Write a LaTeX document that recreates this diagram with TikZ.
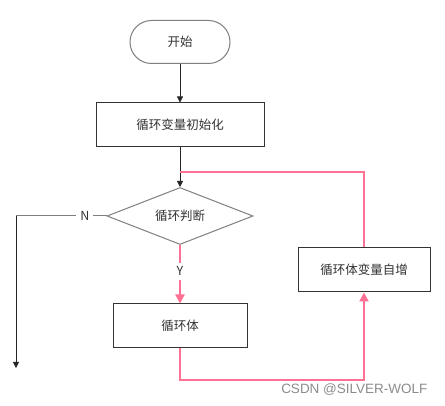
\documentclass[tikz,border=0pt]{standalone}
\usepackage{fontspec}
\setmainfont{Noto Sans CJK SC}
\newfontfamily\wmfont{Liberation Sans}
\usetikzlibrary{arrows.meta,shapes.geometric,calc}
\definecolor{pinkline}{HTML}{FF7095}
\definecolor{boxline}{HTML}{333333}
\definecolor{grayline}{HTML}{7F7F7F}
\definecolor{txt}{HTML}{333333}
\begin{document}
\begin{tikzpicture}[x=1pt,y=-1pt,
  every node/.style={font=\fontsize{12.5}{14}\selectfont, text=txt},
  proc/.style={draw=boxline, line width=1pt, minimum width=#1, minimum height=44pt, inner sep=0pt},
  term/.style={draw=grayline, line width=1pt, rounded corners=21.5pt, minimum width=100pt, minimum height=43pt},
  cond/.style={draw=grayline, line width=1pt, diamond, aspect=2.55, minimum width=146pt, minimum height=57pt, inner sep=0pt},
  blk/.style={draw=black!85, line width=0.8pt, -{Triangle[width=6pt,length=6pt]}},
  pnk/.style={draw=pinkline, line width=2pt, -{Triangle[width=9pt,length=9pt]}},
  pnkl/.style={draw=pinkline, line width=2pt},
  lbl/.style={fill=white, inner sep=4pt, font=\fontsize{12.5}{14}\selectfont}
]
\useasboundingbox (0,0) rectangle (445,406);
\fill[white] (0,0) rectangle (445,406);
\node[term] (start) at (180,42) {开始};
\node[proc=168pt] (init) at (180,125) {循环变量初始化};
\node[cond] (judge) at (180,216) {循环判断};
\node[proc=134pt] (body) at (180,326) {循环体};
\node[proc=132pt] (inc) at (364,270) {循环体变量自增};
\coordinate (join) at (180,172);
\coordinate (ncorner) at (16,216);
\coordinate (nend) at (16,368);
\coordinate (bot) at (180,380);
% black arrows
\draw[blk] (start) -- (init);
\draw[blk] (init.south) -- (judge.north);
% pink loop
\draw[pnkl] (inc.north) |- (join);
\draw[pnk] (body.south) -- (bot) -| (inc.south);
% Y branch
\draw[pnk] (judge.south) -- node[lbl, pos=0.45] {Y} (body.north);
% N branch
\draw[draw=grayline, line width=1pt] (judge.west) -- node[lbl, pos=0.24] {N} (ncorner);
\draw[blk] (ncorner) -- (nend);
\node[font=\wmfont\fontsize{13.5}{15}\selectfont, text=black!45, anchor=east] (wm) at (431,390) {CSDN @SILVER-WOLF};
\end{tikzpicture}
\end{document}
